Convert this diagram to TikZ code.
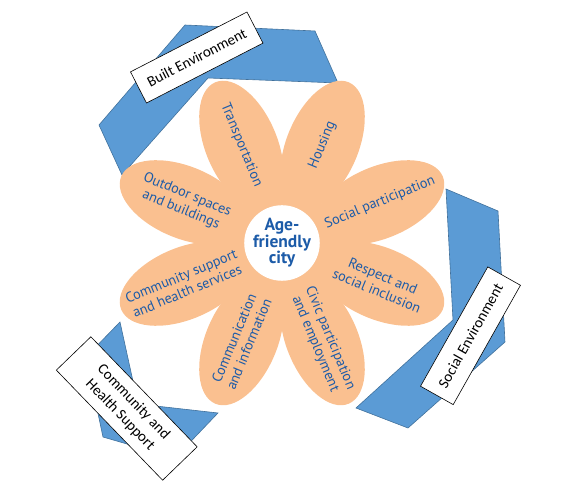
\documentclass[tikz,border=0pt]{standalone}
\usepackage{fontspec}
\setmainfont{PT Sans}
\newfontfamily\boxfont{Carlito}
\usepackage{xcolor}
\usepackage{tikz}
\usetikzlibrary{shapes.geometric}

\definecolor{petalfill}{HTML}{FAC090}
\definecolor{bandfill}{HTML}{5B9BD5}
\definecolor{banddraw}{HTML}{41719C}
\definecolor{petalblue}{HTML}{1C5BA8}

\begin{document}
\begin{tikzpicture}[x=1pt, y=1pt,
  petal/.style={ellipse, fill=petalfill, minimum width=136pt, minimum height=72pt, inner sep=0pt},
  petallabel/.style={text=petalblue, font=\fontsize{14.2}{16}\selectfont, align=center, inner sep=0pt},
  band/.style={fill=bandfill, draw=banddraw, line width=0.6pt},
  areabox/.style={draw=black, fill=white, line width=0.6pt, inner sep=0pt, align=center,
    font=\boxfont\fontsize{15}{18.5}\selectfont}]

\useasboundingbox (-282,-246) rectangle (292,243);

% Bandas
\draw[band] (-183,118) -- (-97,218) -- (33,212) -- (56,160) -- (-74,165) -- (-160,68) -- cycle;
\draw[band] (164,54) -- (216,32) -- (223,-99) -- (126,-185) -- (74,-165) -- (171,-77) -- cycle;
\draw[band] (-162,-79) -- (-144,-161) -- (-64,-170) -- (-107,-215) -- (-179,-194) -- (-196,-114) -- cycle;

% Recuadros
\node[areabox, rotate=27.2, minimum width=131pt, minimum height=35pt] (built) at (-85.25,185.5) {Built Environment};
\node[areabox, rotate=60.6, minimum width=137pt, minimum height=37.5pt] (socialenv) at (188.5,-92.75) {Social Environment};
\node[areabox, rotate=-46, minimum width=153pt, minimum height=48pt] (health) at (-155.25,-165.5) {Community and\\Health Support};

% Petalos
\node[circle, fill=petalfill, minimum size=112pt] (core) at (0,0) {};
\node[petal, rotate=22.5] (social) at (22.5:106) {};
\node[petal, rotate=67.5] (housing) at (67.5:106) {};
\node[petal, rotate=-67.5] (transport) at (112.5:106) {};
\node[petal, rotate=-22.5] (outdoor) at (157.5:106) {};
\node[petal, rotate=22.5] (community) at (202.5:106) {};
\node[petal, rotate=67.5] (communication) at (247.5:106) {};
\node[petal, rotate=-67.5] (civic) at (292.5:106) {};
\node[petal, rotate=-22.5] (respect) at (337.5:106) {};

% Textos
\node[petallabel, rotate=22.5] (tsocial) at (social) {Social participation};
\node[petallabel, rotate=67.5] (thousing) at (housing) {Housing};
\node[petallabel, rotate=-67.5] (ttransport) at (transport) {Transportation};
\node[petallabel, rotate=-22.5] (toutdoor) at (outdoor) {Outdoor spaces\\and buildings};
\node[petallabel, rotate=22.5] (tcommunity) at (community) {Community support\\and health services};
\node[petallabel, rotate=67.5] (tcommunication) at (communication) {Communication\\and information};
\node[petallabel, rotate=-67.5] (tcivic) at (civic) {Civic participation\\and employment};
\node[petallabel, rotate=-22.5] (trespect) at (respect) {Respect and\\social inclusion};

% Centro
\node[circle, fill=white, minimum size=70pt, inner sep=0pt, text=petalblue, align=center,
  font=\bfseries\fontsize{17.5}{16.5}\selectfont] (city) at (0,0) {Age-\\friendly\\city};
\end{tikzpicture}
\end{document}
